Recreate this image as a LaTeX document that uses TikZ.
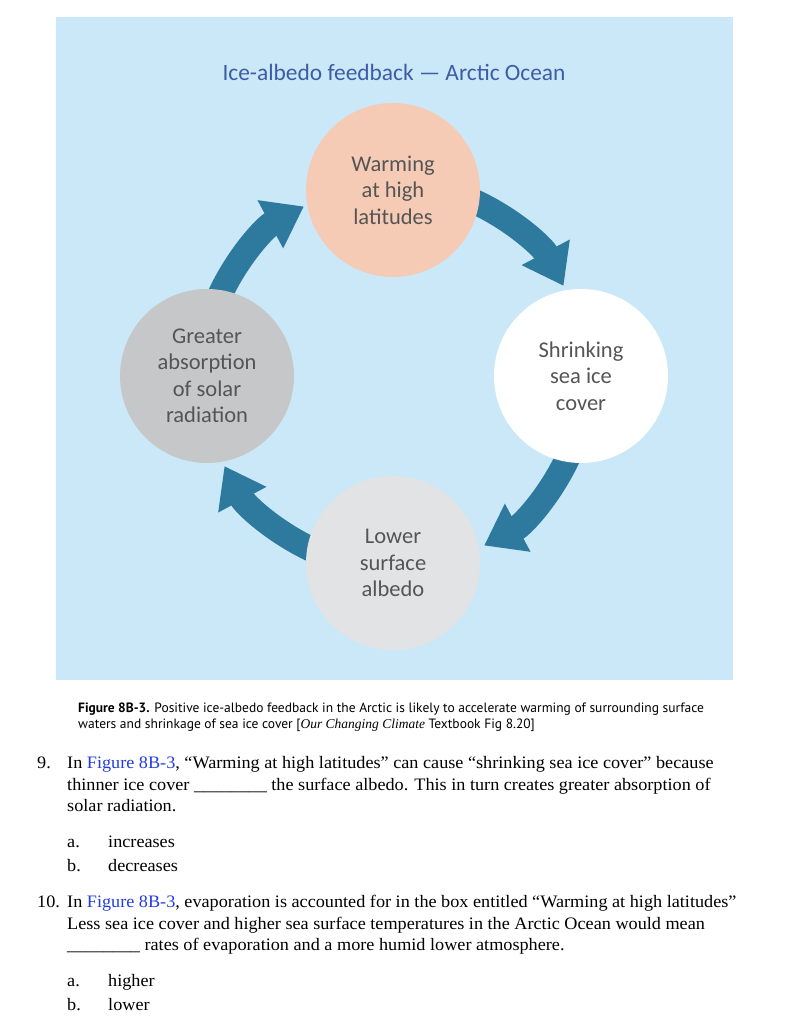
\documentclass[tikz,border=0pt]{standalone}
\usepackage{fontspec}
\setmainfont[FakeStretch=1.04]{Liberation Serif}
\newfontfamily\diagfont{Carlito}
\newfontfamily\capfont{PT Sans}
\newfontfamily\capserif{Liberation Serif}
\usetikzlibrary{arrows.meta}
\definecolor{bgblue}{RGB}{203,232,248}
\definecolor{titleblue}{RGB}{62,92,166}
\definecolor{peach}{RGB}{246,203,182}
\definecolor{midgray}{RGB}{198,199,201}
\definecolor{lightgray}{RGB}{226,227,228}
\definecolor{arrowblue}{RGB}{46,122,158}
\definecolor{circtext}{RGB}{85,85,85}
\definecolor{linkblue}{RGB}{35,60,225}
\begin{document}
\begin{tikzpicture}[x=1pt,y=1pt,
  stage/.style={circle,minimum size=174pt,inner sep=0pt,align=center,
    font=\diagfont\fontsize{22.5}{26.5}\selectfont,text=circtext},
  feed/.style={draw=arrowblue,line width=25pt,
    -{Triangle[length=38pt,width=52pt]}},
  qline/.style={anchor=base west,inner sep=0pt,font=\fontsize{17.5}{21}\selectfont},
  capline/.style={anchor=base west,inner sep=0pt,font=\capfont\fontsize{13.5}{16}\selectfont}]
\useasboundingbox (0,0) rectangle (784,1024);
\fill[white] (0,0) rectangle (784,1024);
\fill[bgblue] (56,344) rectangle (733,1007);
\node[font=\diagfont\fontsize{23.4}{26}\selectfont,text=titleblue] (title) at (394,952) {Ice-albedo feedback — Arctic Ocean};
\coordinate (ctr) at (394,648);
% arrows
\draw[feed] ([shift={(68:192)}]ctr) arc[start angle=68,end angle=28,radius=192pt];
\draw[feed] ([shift={(-22:192)}]ctr) arc[start angle=-22,end angle=-62,radius=192pt];
\draw[feed] ([shift={(248:192)}]ctr) arc[start angle=248,end angle=208,radius=192pt];
\draw[feed] ([shift={(158:192)}]ctr) arc[start angle=158,end angle=118,radius=192pt];
% stages
\node[stage,fill=peach] (warm) at (393,834) {Warming\\at high\\latitudes};
\node[stage,fill=white] (shrink) at (581,648) {Shrinking\\sea ice\\cover};
\node[stage,fill=lightgray] (lower) at (393,461) {Lower\\surface\\albedo};
\node[stage,fill=midgray] (greater) at (207,648) {Greater\\absorption\\of solar\\radiation};
% caption
\node[capline] (cap1) at (78,311) {\textbf{Figure 8B-3.} Positive ice-albedo feedback in the Arctic is likely to accelerate warming of surrounding surface};
\node[capline] (cap2) at (78,295) {waters and shrinkage of sea ice cover [{\capserif\itshape Our Changing Climate} Textbook Fig 8.20]};
% question 9
\node[qline] (q9n) at (37,255) {9.};
\node[qline] (q9a) at (67,255) {In \textcolor{linkblue}{Figure 8B-3}, “Warming at high latitudes” can cause “shrinking sea ice cover” because};
\node[qline] (q9b) at (67,233) {thinner ice cover \_\_\_\_\_\_\_\_ the surface albedo. This in turn creates greater absorption of};
\node[qline] (q9c) at (67,212) {solar radiation.};
\node[qline] (q9an) at (67,176) {a.};
\node[qline] (q9at) at (108,176) {increases};
\node[qline] (q9bn) at (67,152) {b.};
\node[qline] (q9bt) at (108,152) {decreases};
% question 10
\node[qline] (q10n) at (37,116) {10.};
\node[qline] (q10a) at (67,116) {In \textcolor{linkblue}{Figure 8B-3}, evaporation is accounted for in the box entitled “Warming at high latitudes”};
\node[qline] (q10b) at (67,94) {Less sea ice cover and higher sea surface temperatures in the Arctic Ocean would mean};
\node[qline] (q10c) at (67,73) {\_\_\_\_\_\_\_\_ rates of evaporation and a more humid lower atmosphere.};
\node[qline] (q10an) at (67,37) {a.};
\node[qline] (q10at) at (108,37) {higher};
\node[qline] (q10bn) at (67,13) {b.};
\node[qline] (q10bt) at (108,13) {lower};
\end{tikzpicture}
\end{document}
